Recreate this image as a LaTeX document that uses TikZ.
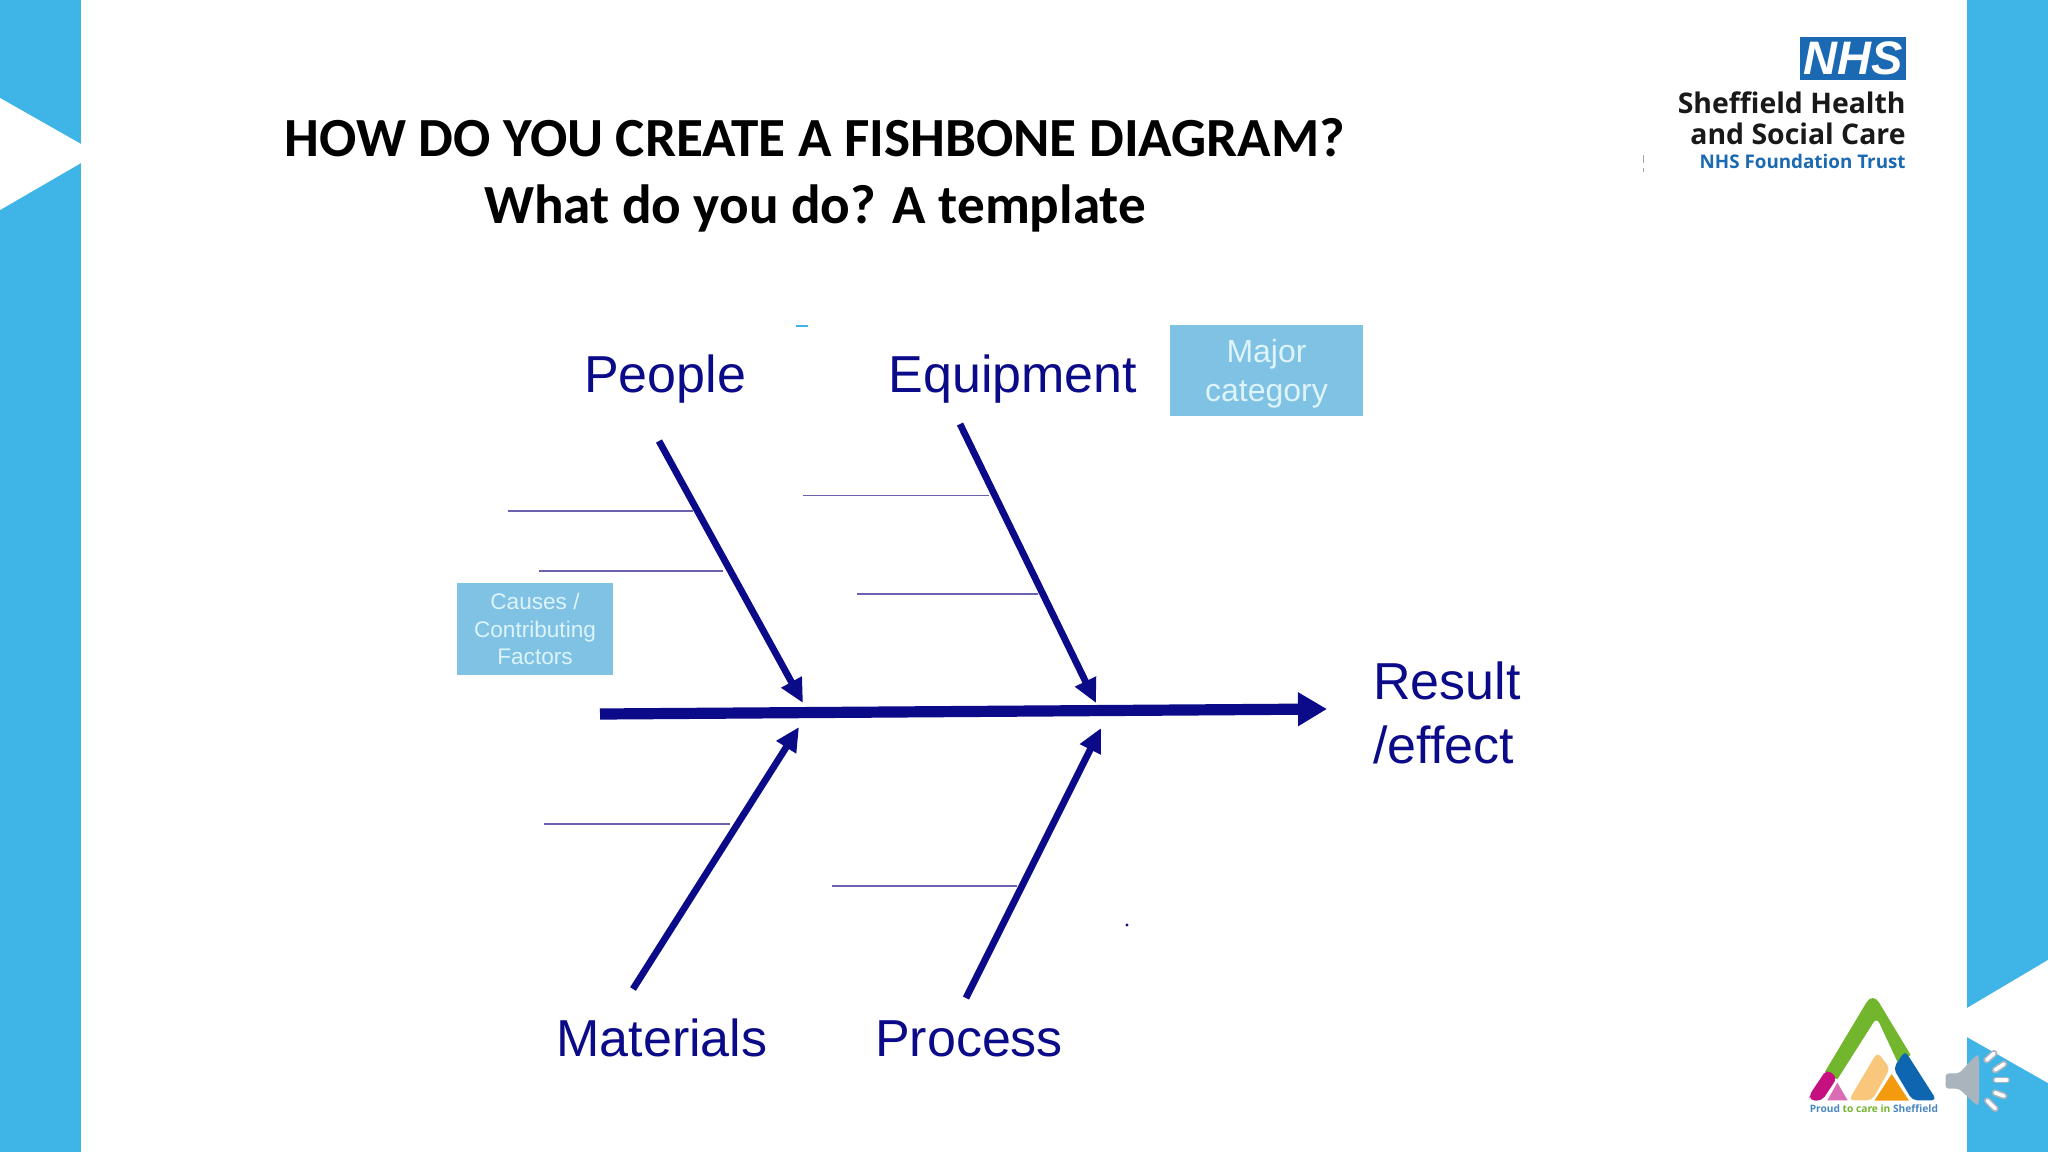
\documentclass[tikz,border=0pt]{standalone}
\usepackage{fontspec}
\setmainfont{Liberation Sans}
\newfontfamily\titlefont{Carlito}
\newfontfamily\logofont{Open Sans}
\usetikzlibrary{arrows.meta}
\definecolor{band}{HTML}{3FB4E6}
\definecolor{navy}{HTML}{0B0B8A}
\definecolor{rib}{HTML}{6A62B0}
\definecolor{boxblue}{HTML}{80C2E4}
\definecolor{boxtext}{HTML}{DDF4FC}
\definecolor{nhsblue}{HTML}{1B69B2}
\definecolor{lgreen}{HTML}{72B62E}
\definecolor{lmagenta}{HTML}{C4117F}
\definecolor{lpink}{HTML}{DA6DB5}
\definecolor{llorange}{HTML}{F8C77B}
\definecolor{lorange}{HTML}{F39A0E}
\definecolor{lblue}{HTML}{0F66B0}
\definecolor{spk}{HTML}{A9B4BC}
\tikzset{
  titletext/.style={font=\titlefont\bfseries\fontsize{27.6}{30}\selectfont,text=black,anchor=base,inner sep=0},
  catlabel/.style={font=\fontsize{26}{30}\selectfont,text=navy,anchor=base,inner sep=0},
  notebox/.style={fill=boxblue,text=boxtext,inner sep=0,align=center,anchor=center},
  spine/.style={draw=navy,line width=5.6pt,-{Triangle[length=14.5pt,width=16pt]}},
  bone/.style={draw=navy,line width=3.4pt,-{Triangle[length=12pt,width=11pt]}},
  ribline/.style={draw=rib,line width=0.9pt},
  logotext/.style={font=\logofont\bfseries,anchor=base east,inner sep=0},
  ray/.style={line cap=round,line width=3.4pt,draw=spk},
  rayin/.style={line cap=round,line width=1.8pt,draw=white}
}
\begin{document}
\begin{tikzpicture}[x=0.5pt,y=-0.5pt]
\useasboundingbox (0,0) rectangle (2048,1152);
\fill[white] (0,0) rectangle (2048,1152);
% side bands
\fill[band] (0,0) rectangle (81,1152);
\fill[band] (1967,0) rectangle (2048,1152);
\fill[white] (0,98) -- (81,144) -- (81,163) -- (0,210) -- cycle;
\fill[white] (2048,960) -- (1967,1008) -- (1967,1037) -- (2048,1083) -- cycle;
% title
\node[titletext] (t1) at (815,156) {HOW DO YOU CREATE A FISHBONE DIAGRAM?};
\node[titletext] (t2) at (815,223) {What do you do? A template};
% fishbone
\coordinate (spineS) at (600,714);
\coordinate (spineE) at (1327,709);
\draw[spine] (spineS) -- (spineE);
\coordinate (pS) at (659,441); \coordinate (pE) at (803,703);
\coordinate (eS) at (960,424); \coordinate (eE) at (1096,703);
\coordinate (mS) at (633,989); \coordinate (mE) at (799,727);
\coordinate (rS) at (966,998); \coordinate (rE) at (1101,728);
\draw[bone] (pS) -- (pE);
\draw[bone] (eS) -- (eE);
\draw[bone] (mS) -- (mE);
\draw[bone] (rS) -- (rE);
\coordinate (a1) at (508,511); \coordinate (b1) at (693,511);
\coordinate (a2) at (539,571); \coordinate (b2) at (723,571);
\coordinate (a3) at (803,495.5); \coordinate (b3) at (989,495.5);
\coordinate (a4) at (857,594); \coordinate (b4) at (1038,594);
\coordinate (a5) at (544,824); \coordinate (b5) at (730,824);
\coordinate (a6) at (832,886); \coordinate (b6) at (1017,886);
\draw[ribline] (a1) -- (b1);
\draw[ribline] (a2) -- (b2);
\draw[ribline] (a3) -- (b3);
\draw[ribline] (a4) -- (b4);
\draw[ribline] (a5) -- (b5);
\draw[ribline] (a6) -- (b6);
% labels
\node[catlabel] (people) at (665,392) {People};
\node[catlabel] (equip) at (1013,392) {Equipment};
\node[catlabel] (mater) at (662,1056) {Materials};
\node[catlabel] (proc) at (969,1056) {Process};
\node[catlabel,anchor=base west] (res1) at (1373,699) {Result};
\node[catlabel,anchor=base west] (res2) at (1373,763) {/effect};
% note boxes
\node[notebox,minimum width=96.5pt,minimum height=45.5pt] (major) at (1266.5,370.5) {};
\node[inner sep=0,text=boxtext,align=center,font=\fontsize{16}{19.5}\selectfont] (majort) at (1266.5,373.5) {Major\\category};
\node[notebox,minimum width=78pt,minimum height=46pt,font=\fontsize{11.3}{13.6}\selectfont] (causes) at (535,629) {Causes /\\Contributing\\Factors};
% tiny specks
\fill[navy] (1127,925) circle (1.6);
\fill[band] (796,325) rectangle (808,327);
\fill[black!35] (1642.5,155) rectangle (1643.5,163);
\fill[black!35] (1642.5,168) rectangle (1643.5,172);
% NHS logo
\node[fill=nhsblue,minimum width=53pt,minimum height=21.5pt,inner sep=0,text=white,font=\bfseries\itshape\fontsize{23.5}{23.5}\selectfont] (nhs) at (1853,58.5) {NHS};
\node[logotext,font=\logofont\bfseries\fontsize{14.2}{16}\selectfont,text=black!90] (s1) at (1906,113) {Sheffield Health};
\node[logotext,font=\logofont\bfseries\fontsize{14.2}{16}\selectfont,text=black!90] (s2) at (1906,144) {and Social Care};
\node[logotext,font=\logofont\bfseries\fontsize{9.4}{12}\selectfont,text=nhsblue] (s3) at (1906,168.5) {NHS Foundation Trust};
% Proud to care logo (drawn in 3x zoom coordinates)
\begin{scope}[shift={(1760,960)},x=0.16667pt,y=-0.16667pt]
\fill[lgreen] (195,335) [rounded corners=6pt] -- (338,96) [sharp corners] -- (452,285) -- (412,305) [rounded corners=3pt] -- (350,172) [sharp corners] -- (232,358) -- cycle;
\fill[lmagenta,rounded corners=2.5pt] (200,328) -- (232,352) -- (186,422) -- (150,422) -- (148,405) -- cycle;
\fill[lpink] (232,368) -- (263,421) -- (202,421) -- cycle;
\fill[llorange,rounded corners=2.5pt] (352,276) -- (390,325) -- (336,421) -- (266,421) -- cycle;
\fill[lorange] (395,342) -- (447,422) -- (343,422) -- cycle;
\fill[lblue,rounded corners=2.5pt] (435,272) -- (530,421) -- (457,421) -- (400,325) -- cycle;
\node[inner sep=0,anchor=base west,font=\logofont\bfseries\fontsize{5.1}{6}\selectfont] (proud) at (148,458) {\textcolor{nhsblue!80}{Proud} \textcolor{lgreen}{to care in} \textcolor{nhsblue!80}{Sheffield}};
% speaker
\fill[spk,rounded corners=1.5pt] (557,340) -- (597,340) -- (650,284) -- (657,288) -- (657,432) -- (650,436) -- (597,386) -- (557,386) -- cycle;
\foreach \xa/\ya/\xb/\yb in {680/300/702/280, 705/330/732/312, 708/360/740/360, 705/398/732/408, 682/422/706/446}{
  \draw[ray] (\xa,\ya) -- (\xb,\yb);
  \draw[rayin] (\xa,\ya) -- (\xb,\yb);
}
\end{scope}
\end{tikzpicture}
\end{document}
